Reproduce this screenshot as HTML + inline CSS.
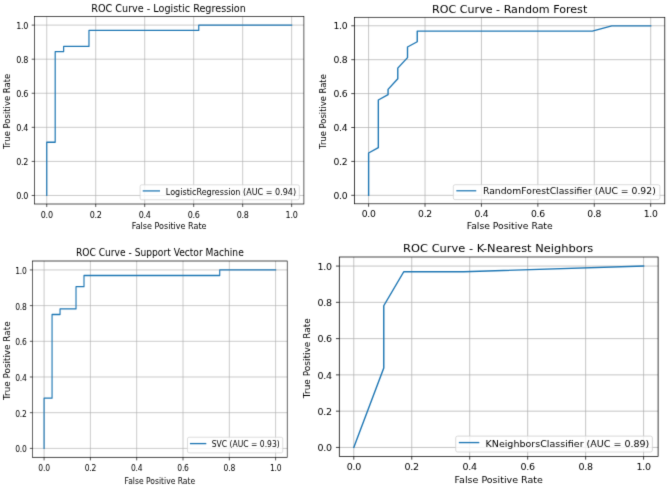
<!DOCTYPE html>
<html lang="en">
<head>
<meta charset="utf-8">
<title>ROC Curves</title>
<style>
html,body{margin:0;padding:0;background:#fff;}
svg{display:block;}
text{font-family:'DejaVu Sans', 'Liberation Sans', sans-serif;fill:#000;}
.t10{font-size:10px;}
.t12{font-size:12px;}
.tk{letter-spacing:-0.3px;}
.grid{stroke:#b0b0b0;stroke-width:0.8;fill:none;}
.tick{stroke:#000;stroke-width:0.8;fill:none;}
.spine{stroke:#000;stroke-width:0.8;fill:none;stroke-linecap:square;}
.curve{stroke:#1f77b4;stroke-width:1.5;fill:none;stroke-linejoin:round;stroke-linecap:square;}
.leg{fill:#fff;fill-opacity:0.8;stroke:#ccc;stroke-width:1;stroke-opacity:0.8;}
</style>
</head>
<body>
<svg width="669" height="489" viewBox="0 0 669 489">
<defs><filter id="soft" x="0" y="0" width="669" height="489" filterUnits="userSpaceOnUse" color-interpolation-filters="sRGB"><feConvolveMatrix order="3" kernelMatrix="0.011 0.084 0.011 0.084 0.62 0.084 0.011 0.084 0.011" divisor="1" edgeMode="duplicate" preserveAlpha="true"/></filter></defs>
<g filter="url(#soft)">
<rect x="0" y="0" width="669" height="489" fill="#ffffff"/>
<g transform="translate(34.5 16.6) scale(0.80466 0.84506)">
<rect x="0" y="0" width="334.8" height="221.76" fill="#fff"/>
<path class="grid" d="M15.22 0V221.76M76.09 0V221.76M136.96 0V221.76M197.84 0V221.76M258.71 0V221.76M319.58 0V221.76M0 211.68H334.8M0 171.36H334.8M0 131.04H334.8M0 90.72H334.8M0 50.4H334.8M0 10.08H334.8"/>
<path class="tick" d="M15.22 221.76v3.5M76.09 221.76v3.5M136.96 221.76v3.5M197.84 221.76v3.5M258.71 221.76v3.5M319.58 221.76v3.5M0 211.68h-3.5M0 171.36h-3.5M0 131.04h-3.5M0 90.72h-3.5M0 50.4h-3.5M0 10.08h-3.5"/>
<path class="curve" d="M15.22 211.68L15.22 148.68L25.71 148.68L25.71 41.58L36.21 41.58L36.21 35.28L67.69 35.28L67.69 16.38L204.13 16.38L204.13 10.08L319.58 10.08"/>
<rect class="spine" x="0" y="0" width="334.8" height="221.76"/>
<text class="t10 tk" text-anchor="middle" x="15.22" y="237.86">0.0</text>
<text class="t10 tk" text-anchor="middle" x="76.09" y="237.86">0.2</text>
<text class="t10 tk" text-anchor="middle" x="136.96" y="237.86">0.4</text>
<text class="t10 tk" text-anchor="middle" x="197.84" y="237.86">0.6</text>
<text class="t10 tk" text-anchor="middle" x="258.71" y="237.86">0.8</text>
<text class="t10 tk" text-anchor="middle" x="319.58" y="237.86">1.0</text>
<text class="t10 tk" text-anchor="end" x="-7.8" y="216.18">0.0</text>
<text class="t10 tk" text-anchor="end" x="-7.8" y="175.86">0.2</text>
<text class="t10 tk" text-anchor="end" x="-7.8" y="135.54">0.4</text>
<text class="t10 tk" text-anchor="end" x="-7.8" y="95.22">0.6</text>
<text class="t10 tk" text-anchor="end" x="-7.8" y="54.9">0.8</text>
<text class="t10 tk" text-anchor="end" x="-7.8" y="14.58">1.0</text>
<text class="t10" text-anchor="middle" x="167.4" y="251.66">False Positive Rate</text>
<text class="t10" text-anchor="middle" transform="translate(-29.98 112.28) scale(1 1) rotate(-90)">True Positive Rate</text>
<text class="t12" text-anchor="middle" x="166.6" y="-5.5">ROC Curve - Logistic Regression</text>
<rect class="leg" x="131.23" y="199.08" width="197.88" height="17.68" rx="2" ry="2"/>
<path class="curve" d="M135.23 206.28h20"/>
<text class="t10" x="163.23" y="210.68">LogisticRegression (AUC = 0.94)</text>
</g>
<g transform="translate(354.5 17.3) scale(0.92682 0.84100)">
<rect x="0" y="0" width="334.8" height="221.76" fill="#fff"/>
<path class="grid" d="M15.22 0V221.76M76.09 0V221.76M136.96 0V221.76M197.84 0V221.76M258.71 0V221.76M319.58 0V221.76M0 211.68H334.8M0 171.36H334.8M0 131.04H334.8M0 90.72H334.8M0 50.4H334.8M0 10.08H334.8"/>
<path class="tick" d="M15.22 221.76v3.5M76.09 221.76v3.5M136.96 221.76v3.5M197.84 221.76v3.5M258.71 221.76v3.5M319.58 221.76v3.5M0 211.68h-3.5M0 171.36h-3.5M0 131.04h-3.5M0 90.72h-3.5M0 50.4h-3.5M0 10.08h-3.5"/>
<path class="curve" d="M15.22 211.68L15.22 161.28L25.71 154.98L25.71 98.28L36.21 91.98L36.21 85.68L46.7 73.08L46.7 60.48L57.2 47.88L57.2 35.28L67.69 28.98L67.69 16.38L256.61 16.38L277.6 10.08L319.58 10.08"/>
<rect class="spine" x="0" y="0" width="334.8" height="221.76"/>
<text class="t10 tk" text-anchor="middle" x="15.22" y="237.46">0.0</text>
<text class="t10 tk" text-anchor="middle" x="76.09" y="237.46">0.2</text>
<text class="t10 tk" text-anchor="middle" x="136.96" y="237.46">0.4</text>
<text class="t10 tk" text-anchor="middle" x="197.84" y="237.46">0.6</text>
<text class="t10 tk" text-anchor="middle" x="258.71" y="237.46">0.8</text>
<text class="t10 tk" text-anchor="middle" x="319.58" y="237.46">1.0</text>
<text class="t10 tk" text-anchor="end" x="-7.8" y="215.98">0.0</text>
<text class="t10 tk" text-anchor="end" x="-7.8" y="175.66">0.2</text>
<text class="t10 tk" text-anchor="end" x="-7.8" y="135.34">0.4</text>
<text class="t10 tk" text-anchor="end" x="-7.8" y="95.02">0.6</text>
<text class="t10 tk" text-anchor="end" x="-7.8" y="54.7">0.8</text>
<text class="t10 tk" text-anchor="end" x="-7.8" y="14.38">1.0</text>
<text class="t10" text-anchor="middle" x="167.4" y="252.06">False Positive Rate</text>
<text class="t10" text-anchor="middle" transform="translate(-30.88 112.08) scale(1 1) rotate(-90)">True Positive Rate</text>
<text class="t12" text-anchor="middle" x="167.4" y="-5.5">ROC Curve - Random Forest</text>
<rect class="leg" x="106.62" y="199.08" width="222.88" height="17.68" rx="2" ry="2"/>
<path class="curve" d="M110.62 206.28h20"/>
<text class="t10" x="138.62" y="210.68">RandomForestClassifier (AUC = 0.92)</text>
</g>
<g transform="translate(32.5 261) scale(0.76075 0.88519)">
<rect x="0" y="0" width="334.8" height="221.76" fill="#fff"/>
<path class="grid" d="M15.22 0V221.76M76.09 0V221.76M136.96 0V221.76M197.84 0V221.76M258.71 0V221.76M319.58 0V221.76M0 211.68H334.8M0 171.36H334.8M0 131.04H334.8M0 90.72H334.8M0 50.4H334.8M0 10.08H334.8"/>
<path class="tick" d="M15.22 221.76v3.5M76.09 221.76v3.5M136.96 221.76v3.5M197.84 221.76v3.5M258.71 221.76v3.5M319.58 221.76v3.5M0 211.68h-3.5M0 171.36h-3.5M0 131.04h-3.5M0 90.72h-3.5M0 50.4h-3.5M0 10.08h-3.5"/>
<path class="curve" d="M15.22 211.68L15.22 154.98L25.71 154.98L25.71 60.48L36.21 60.48L36.21 54.18L57.2 54.18L57.2 28.98L67.69 28.98L67.69 16.38L246.11 16.38L246.11 10.08L319.58 10.08"/>
<rect class="spine" x="0" y="0" width="334.8" height="221.76"/>
<text class="t10 tk" text-anchor="middle" x="15.22" y="237.76">0.0</text>
<text class="t10 tk" text-anchor="middle" x="76.09" y="237.76">0.2</text>
<text class="t10 tk" text-anchor="middle" x="136.96" y="237.76">0.4</text>
<text class="t10 tk" text-anchor="middle" x="197.84" y="237.76">0.6</text>
<text class="t10 tk" text-anchor="middle" x="258.71" y="237.76">0.8</text>
<text class="t10 tk" text-anchor="middle" x="319.58" y="237.76">1.0</text>
<text class="t10 tk" text-anchor="end" x="-7.8" y="216.28">0.0</text>
<text class="t10 tk" text-anchor="end" x="-7.8" y="175.96">0.2</text>
<text class="t10 tk" text-anchor="end" x="-7.8" y="135.64">0.4</text>
<text class="t10 tk" text-anchor="end" x="-7.8" y="95.32">0.6</text>
<text class="t10 tk" text-anchor="end" x="-7.8" y="55">0.8</text>
<text class="t10 tk" text-anchor="end" x="-7.8" y="14.68">1.0</text>
<text class="t10" text-anchor="middle" x="167.4" y="251.96">False Positive Rate</text>
<text class="t10" text-anchor="middle" transform="translate(-29.48 112.68) scale(1.08 1) rotate(-90)">True Positive Rate</text>
<text class="t12" text-anchor="middle" x="167.4" y="-6">ROC Curve - Support Vector Machine</text>
<rect class="leg" x="203.7" y="199.08" width="125.3" height="17.68" rx="2" ry="2"/>
<path class="curve" d="M207.7 206.28h20"/>
<text class="t10" x="235.7" y="210.68">SVC (AUC = 0.93)</text>
</g>
<g transform="translate(339.3 257) scale(0.95221 0.89962)">
<rect x="0" y="0" width="334.8" height="221.76" fill="#fff"/>
<path class="grid" d="M15.22 0V221.76M76.09 0V221.76M136.96 0V221.76M197.84 0V221.76M258.71 0V221.76M319.58 0V221.76M0 211.68H334.8M0 171.36H334.8M0 131.04H334.8M0 90.72H334.8M0 50.4H334.8M0 10.08H334.8"/>
<path class="tick" d="M15.22 221.76v3.5M76.09 221.76v3.5M136.96 221.76v3.5M197.84 221.76v3.5M258.71 221.76v3.5M319.58 221.76v3.5M0 211.68h-3.5M0 171.36h-3.5M0 131.04h-3.5M0 90.72h-3.5M0 50.4h-3.5M0 10.08h-3.5"/>
<path class="curve" d="M15.22 211.68L46.7 123.48L46.7 54.18L67.69 16.38L130.67 16.38L319.58 10.08"/>
<rect class="spine" x="0" y="0" width="334.8" height="221.76"/>
<text class="t10 tk" text-anchor="middle" x="15.22" y="237.16">0.0</text>
<text class="t10 tk" text-anchor="middle" x="76.09" y="237.16">0.2</text>
<text class="t10 tk" text-anchor="middle" x="136.96" y="237.16">0.4</text>
<text class="t10 tk" text-anchor="middle" x="197.84" y="237.16">0.6</text>
<text class="t10 tk" text-anchor="middle" x="258.71" y="237.16">0.8</text>
<text class="t10 tk" text-anchor="middle" x="319.58" y="237.16">1.0</text>
<text class="t10 tk" text-anchor="end" x="-7.8" y="215.98">0.0</text>
<text class="t10 tk" text-anchor="end" x="-7.8" y="175.66">0.2</text>
<text class="t10 tk" text-anchor="end" x="-7.8" y="135.34">0.4</text>
<text class="t10 tk" text-anchor="end" x="-7.8" y="95.02">0.6</text>
<text class="t10 tk" text-anchor="end" x="-7.8" y="54.7">0.8</text>
<text class="t10 tk" text-anchor="end" x="-7.8" y="14.38">1.0</text>
<text class="t10" text-anchor="middle" x="167.4" y="251.76">False Positive Rate</text>
<text class="t10" text-anchor="middle" transform="translate(-30.78 112.48) scale(1 1) rotate(-90)">True Positive Rate</text>
<text class="t12" text-anchor="middle" x="166.9" y="-6">ROC Curve - K-Nearest Neighbors</text>
<rect class="leg" x="122.28" y="199.08" width="206.52" height="17.68" rx="2" ry="2"/>
<path class="curve" d="M126.28 206.28h20"/>
<text class="t10" x="153.58" y="210.68">KNeighborsClassifier (AUC = 0.89)</text>
</g>
</g>
</svg>
</body>
</html>
